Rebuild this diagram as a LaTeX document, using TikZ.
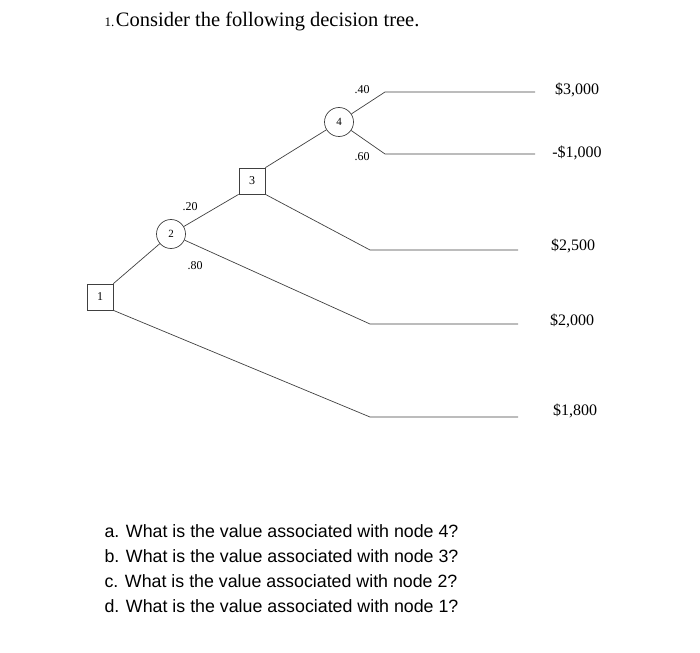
\documentclass[tikz,border=0pt]{standalone}
\usepackage{fontspec}
\setmainfont{Liberation Serif}
\newfontfamily\qfont{Liberation Sans}
\begin{document}
\begin{tikzpicture}[x=1pt,y=-1pt,
  ln/.style={draw=black!75,line width=0.7pt},
  sq/.style={draw=black!75,line width=0.7pt,minimum size=26pt,inner sep=0pt,font=\fontsize{12}{13}\selectfont},
  cr/.style={draw=black!75,line width=0.7pt,circle,minimum size=29pt,inner sep=0pt,font=\fontsize{11}{12}\selectfont},
  pr/.style={font=\fontsize{12}{13}\selectfont},
  val/.style={font=\fontsize{16}{18}\selectfont},
  q/.style={anchor=west,font=\qfont\fontsize{17.8}{20}\selectfont}]
\useasboundingbox (0,0) rectangle (700,652);
\node[anchor=west] (t) at (101,21) {{\fontsize{13}{15}\selectfont 1.}\,\fontsize{20.5}{23}\selectfont Consider the following decision tree.};
\node[sq] (n1) at (100,297) {1};
\node[cr] (n2) at (171,234) {2};
\node[sq] (n3) at (252,181) {3};
\node[cr] (n4) at (339,122) {4};
\coordinate (a) at (385,92); \coordinate (a2) at (535,92);
\coordinate (b) at (385,154); \coordinate (b2) at (535,154);
\coordinate (c) at (370,250); \coordinate (c2) at (518,250);
\coordinate (d) at (370,324); \coordinate (d2) at (518,324);
\coordinate (e) at (370,417); \coordinate (e2) at (518,417);
\draw[ln] (n1.north east) -- (n2);
\draw[ln] (n1.south east) -- (e) -- (e2);
\draw[ln] (n2) -- (n3.south west);
\draw[ln] (n2) -- (d) -- (d2);
\draw[ln] (n3.north east) -- (n4);
\draw[ln] (n3.south east) -- (c) -- (c2);
\draw[ln] (n4) -- (a) -- (a2);
\draw[ln] (n4) -- (b) -- (b2);
\node[pr] (p40) at (362,90) {.40};
\node[pr] (p60) at (362,157) {.60};
\node[pr] (p20) at (190,207) {.20};
\node[pr] (p80) at (195,266) {.80};
\node[val] (v1) at (577,90) {\$3,000};
\node[val] (v2) at (577,153) {-\$1,000};
\node[val] (v3) at (573,246) {\$2,500};
\node[val] (v4) at (572,321) {\$2,000};
\node[val] (v5) at (575,411) {\$1,800};
\node[q] (qa) at (101,531) {a. What is the value associated with node 4?};
\node[q] (qb) at (101,556) {b. What is the value associated with node 3?};
\node[q] (qc) at (101,581) {c. What is the value associated with node 2?};
\node[q] (qd) at (101,606) {d. What is the value associated with node 1?};
\end{tikzpicture}
\end{document}
